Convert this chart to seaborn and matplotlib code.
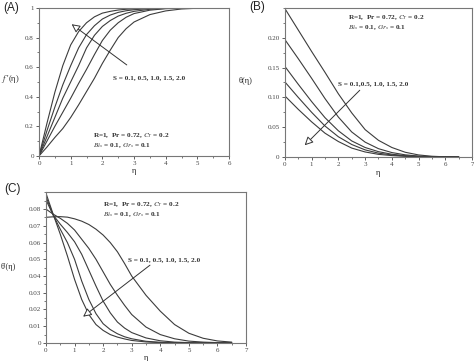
import matplotlib
matplotlib.use("Agg")
import matplotlib.pyplot as plt
import seaborn as sns
import numpy as np
from matplotlib.ticker import AutoMinorLocator

# ---- panel A: f'(eta) ----
eta_a = [0, 0.25, 0.5, 0.75, 1.0, 1.25, 1.5, 1.75, 2.0, 2.25, 2.5, 2.75, 3.0, 3.5, 4.0, 4.5, 5.0, 5.5, 6.0]
fp_s01 = [0, 0.06, 0.125, 0.185, 0.26, 0.345, 0.435, 0.525, 0.625, 0.715, 0.80, 0.86, 0.905, 0.955, 0.98, 0.993, 0.998, 1.0, 1.0]
fp_s05 = [0, 0.10, 0.20, 0.295, 0.39, 0.49, 0.585, 0.685, 0.78, 0.85, 0.90, 0.937, 0.962, 0.985, 0.995, 0.998, 1.0, 1.0, 1.0]
fp_s10 = [0, 0.13, 0.26, 0.39, 0.50, 0.61, 0.73, 0.815, 0.875, 0.915, 0.945, 0.964, 0.977, 0.991, 0.997, 0.999, 1.0, 1.0, 1.0]
fp_s15 = [0, 0.17, 0.33, 0.48, 0.61, 0.73, 0.82, 0.88, 0.925, 0.952, 0.970, 0.981, 0.988, 0.996, 0.999, 1.0, 1.0, 1.0, 1.0]
fp_s20 = [0, 0.22, 0.43, 0.61, 0.75, 0.84, 0.90, 0.94, 0.965, 0.977, 0.986, 0.991, 0.994, 0.998, 0.999, 1.0, 1.0, 1.0, 1.0]

# ---- panel B: theta(eta) ----
eta_b = [0, 0.5, 1.0, 1.5, 2.0, 2.5, 3.0, 3.5, 4.0, 4.5, 5.0, 5.5, 6.0, 6.5]
th_s01 = [0.249, 0.213, 0.177, 0.142, 0.106, 0.074, 0.046, 0.028, 0.016, 0.008, 0.0035, 0.0013, 0.0004, 0]
th_s05 = [0.197, 0.165, 0.132, 0.098, 0.067, 0.042, 0.025, 0.014, 0.0075, 0.0037, 0.0016, 0.0006, 0.0002, 0]
th_s10 = [0.152, 0.122, 0.093, 0.066, 0.044, 0.027, 0.016, 0.009, 0.0047, 0.0023, 0.001, 0.0004, 0.0001, 0]
th_s15 = [0.126, 0.100, 0.075, 0.052, 0.034, 0.021, 0.012, 0.0065, 0.0035, 0.0017, 0.0007, 0.0003, 0.0001, 0]
th_s20 = [0.1025, 0.080, 0.059, 0.040, 0.026, 0.015, 0.0085, 0.0045, 0.0024, 0.0012, 0.0005, 0.0002, 0.0001, 0]

# ---- panel C: theta'(eta) ----
eta_c = [0, 0.25, 0.5, 0.75, 1.0, 1.25, 1.5, 1.75, 2.0, 2.25, 2.5, 2.75, 3.0, 3.5, 4.0, 4.5, 5.0, 5.5, 6.0, 6.5]
tp_s01 = [0.0751, 0.0754, 0.0755, 0.0752, 0.0742, 0.0728, 0.0708, 0.068, 0.0645, 0.060, 0.0545, 0.0475, 0.040, 0.0285, 0.019, 0.011, 0.0058, 0.0028, 0.0012, 0.0005]
tp_s05 = [0.080, 0.077, 0.0745, 0.0715, 0.0675, 0.062, 0.0565, 0.050, 0.0425, 0.035, 0.0285, 0.0225, 0.017, 0.0095, 0.005, 0.0025, 0.0011, 0.0005, 0.0002, 0]
tp_s10 = [0.0855, 0.0765, 0.071, 0.066, 0.0605, 0.053, 0.0435, 0.034, 0.025, 0.018, 0.0125, 0.0089, 0.0062, 0.003, 0.0013, 0.0005, 0.0002, 0.0001, 0, 0]
tp_s15 = [0.0875, 0.0765, 0.068, 0.060, 0.050, 0.037, 0.026, 0.0175, 0.0115, 0.008, 0.0055, 0.0037, 0.0025, 0.001, 0.0004, 0.0001, 0.0001, 0, 0, 0]
tp_s20 = [0.0895, 0.077, 0.065, 0.052, 0.038, 0.026, 0.017, 0.011, 0.0075, 0.005, 0.0035, 0.0024, 0.0015, 0.0006, 0.0002, 0.0001, 0, 0, 0, 0]

a_yticks = [0, 0.2, 0.4, 0.6, 0.8, 1.0]
a_ylabels = ["0", "0.2", "0.4", "0.6", "0.8", "1"]
b_yticks = [0, 0.05, 0.10, 0.15, 0.20]
b_ylabels = ["0", "0.05", "0.10", "0.15", "0.20"]
c_yticks = [0, 0.01, 0.02, 0.03, 0.04, 0.05, 0.06, 0.07, 0.08]
c_ylabels = ["0", "0.01", "0.02", "0.03", "0.04", "0.05", "0.06", "0.07", "0.08"]

params_1 = r"R=1,  Pr = 0.72, $C_T$ = 0.2"
params_2 = r"$Bi_s$ = 0.1, $Gr_s$ = 0.1"

line_col = "#3c3c3c"
serif = "Liberation Serif"


def style_axes(ax, xmax, ymax, yticks, ylabels, ylabel, ylab_x, ylab_y):
    ax.set_xlim(0, xmax)
    ax.set_ylim(0, ymax)
    ax.set_xticks(range(0, xmax + 1))
    ax.set_xticklabels([str(i) for i in range(0, xmax + 1)], fontsize=5, family=serif)
    ax.set_yticks(yticks)
    ax.set_yticklabels(ylabels, fontsize=5, family=serif)
    ax.xaxis.set_minor_locator(AutoMinorLocator(2))
    ax.yaxis.set_minor_locator(AutoMinorLocator(2))
    ax.tick_params(which="major", direction="out", length=2.2, width=0.6, pad=1.5, colors="#444444")
    ax.tick_params(which="minor", direction="out", length=1.2, width=0.5, colors="#444444")
    for sp in ax.spines.values():
        sp.set_visible(True)
        sp.set_color("#777777")
        sp.set_linewidth(0.8)
    ax.set_xlabel("η", fontsize=6, family=serif, labelpad=1)
    ax.set_ylabel(ylabel, fontsize=6, family=serif, rotation=0)
    ax.yaxis.set_label_coords(ylab_x, ylab_y)


def main():
    sns.set_style("ticks")
    fig = plt.figure(figsize=(4.74, 3.61), dpi=100)
    plt.rcParams["mathtext.fontset"] = "stix"

    ax_a = fig.add_axes([0.0823, 0.568, 0.401, 0.410])
    ax_b = fig.add_axes([0.601, 0.565, 0.395, 0.413])
    ax_c = fig.add_axes([0.097, 0.050, 0.422, 0.418])

    for ys in [fp_s01, fp_s05, fp_s10, fp_s15, fp_s20]:
        sns.lineplot(x=eta_a, y=ys, ax=ax_a, color=line_col, linewidth=0.8)
    for ys in [th_s01, th_s05, th_s10, th_s15, th_s20]:
        sns.lineplot(x=eta_b, y=ys, ax=ax_b, color=line_col, linewidth=0.8)
    for ys in [tp_s01, tp_s05, tp_s10, tp_s15, tp_s20]:
        sns.lineplot(x=eta_c, y=ys, ax=ax_c, color=line_col, linewidth=0.8)

    style_axes(ax_a, 6, 1.0, a_yticks, a_ylabels, r"$f$ '(η)", -0.15, 0.48)
    style_axes(ax_b, 7, 0.25, b_yticks, b_ylabels, "θ(η)", -0.21, 0.48)
    style_axes(ax_c, 7, 0.0902, c_yticks, c_ylabels, "θ'(η)", -0.19, 0.48)

    arrow = dict(arrowstyle="-|>,head_length=0.5,head_width=0.25", fc="white",
                 ec="#333333", lw=0.7, shrinkA=0, shrinkB=0)
    txt = dict(fontsize=5.2, family=serif, fontweight="bold", color="#333333",
               ha="left", va="center")

    ax_a.annotate("", xy=(1.03, 0.89), xytext=(2.77, 0.615), arrowprops=arrow)
    ax_a.text(2.34, 0.53, "S = 0.1, 0.5, 1.0, 1.5, 2.0", **txt)
    ax_a.text(1.7, 0.140, params_1, **txt)
    ax_a.text(1.7, 0.068, params_2, **txt)

    ax_b.annotate("", xy=(0.74, 0.0197), xytext=(2.8, 0.112), arrowprops=arrow)
    ax_b.text(2.0, 0.124, "S = 0.1,0.5, 1.0, 1.5, 2.0", **txt)
    ax_b.text(2.37, 0.2345, params_1, **txt)
    ax_b.text(2.37, 0.2165, params_2, **txt)

    ax_c.annotate("", xy=(1.30, 0.0157), xytext=(3.64, 0.0465), arrowprops=arrow)
    ax_c.text(2.88, 0.050, "S = 0.1, 0.5, 1.0, 1.5, 2.0", **txt)
    ax_c.text(1.98, 0.0830, params_1, **txt)
    ax_c.text(1.98, 0.0765, params_2, **txt)

    lab = dict(fontsize=8.5, family="Liberation Sans", color="#222222", va="top", ha="left")
    fig.text(3 / 474, 1 - 2 / 361, "(A)", **lab)
    fig.text(249 / 474, 1 - 1 / 361, "(B)", **lab)
    fig.text(4 / 474, 1 - 183 / 361, "(C)", **lab)

    fig.savefig("out.png", dpi=100)


if __name__ == "__main__":
    main()
